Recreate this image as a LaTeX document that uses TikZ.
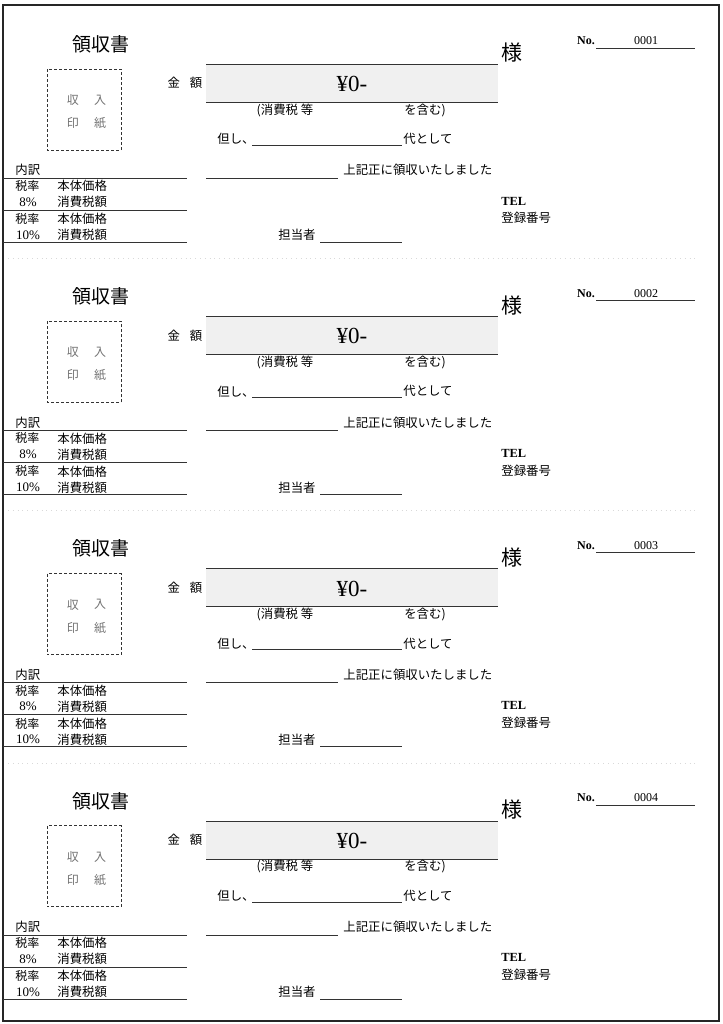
\documentclass[tikz,border=0pt]{standalone}
\usepackage{fontspec}
\setmainfont{Liberation Serif}
\newfontfamily\cjk{Noto Sans CJK JP}
\usetikzlibrary{positioning}
\definecolor{boxgray}{gray}{0.94}
\tikzset{
  lbl/.style={inner sep=0pt,font=\cjk\fontsize{6pt}{6pt}\selectfont},
  lblb/.style={lbl,font=\cjk\fontsize{6.2pt}{6.2pt}\selectfont},
  rule/.style={draw=black!80,line width=0.4pt},
  stamp/.style={draw=black!80,dash pattern=on 1.5pt off 1pt,line width=0.5pt},
}
\begin{document}
\begin{tikzpicture}[x=0.5pt,y=-0.5pt]
\useasboundingbox (0,0) rectangle (723,1024);
\draw[black!85,line width=0.7pt] (3,5) rectangle (719,1021);
% separators
\foreach \s in {258,510,763} \draw[black!15,dotted] (8,\s) -- (695,\s);
\foreach \i/\num in {0/0001,1/0002,2/0003,3/0004}{
\begin{scope}[yshift={-\i*252.3*0.5pt}]
\node[lbl,font=\cjk\fontsize{9.5pt}{9.5pt}\selectfont] (title\i) at (101,44) {領収書};
\draw[stamp] (47,69) rectangle (121,150);
\node[lbl,text=black!55] (sa\i) at (73,100) {収}; \node[lbl,text=black!55] (sb\i) at (100,100) {入};
\node[lbl,text=black!55] (sc\i) at (73,123) {印}; \node[lbl,text=black!55] (sd\i) at (100,123) {紙};
\node[lblb] (kin\i) at (185,83) {金\hspace{5pt}額};
\fill[boxgray] (206,64) rectangle (498,102);
\draw[rule] (206,64) -- (498,64) (206,102) -- (498,102);
\node[lbl,font=\fontsize{11.5pt}{11.5pt}\selectfont] (amt\i) at (352,84) {¥0-};
\node[lblb] (tax\i) at (285,110) {(消費税 等};
\node[lblb] (inc\i) at (425,110) {を含む)};
\node[lblb] (tada\i) at (236,139) {但し、};
\draw[rule] (252,145) -- (402,145);
\node[lblb] (dai\i) at (428,139) {代として};
\draw[rule] (206,178) -- (338,178);
\node[lblb,anchor=west] (recv\i) at (343,170) {上記正に領収いたしました};
\node[lblb,anchor=west] (uchi\i) at (15,170) {内訳};
\draw[rule] (3,178) -- (187,178) (3,210) -- (187,210) (3,242) -- (187,242);
\node[lbl,anchor=west] (ra\i) at (15,186) {税率};
\node[lblb,anchor=west] (pa\i) at (57,186) {本体価格};
\node[lbl,font=\fontsize{6.5pt}{6.5pt}\selectfont] (ta\i) at (28,202) {8\%};
\node[lblb,anchor=west] (ca\i) at (57,202) {消費税額};
\node[lbl,anchor=west] (rb\i) at (15,219) {税率};
\node[lblb,anchor=west] (pb\i) at (57,219) {本体価格};
\node[lbl,font=\fontsize{6.5pt}{6.5pt}\selectfont] (tb\i) at (28,235) {10\%};
\node[lblb,anchor=west] (cb\i) at (57,235) {消費税額};
\node[lblb] (tan\i) at (297,235) {担当者};
\draw[rule] (320,242) -- (402,242);
\node[lbl,font=\cjk\fontsize{10.5pt}{10.5pt}\selectfont] (sama\i) at (512,53) {様};
\node[lbl,font=\bfseries\fontsize{6pt}{6pt}\selectfont] (no\i) at (586,41) {No.};
\draw[rule] (596,48) -- (695,48);
\node[lbl,font=\fontsize{6pt}{6pt}\selectfont] (num\i) at (646,41) {\num};
\node[lbl,font=\bfseries\fontsize{6.2pt}{6.2pt}\selectfont,anchor=west] (tel\i) at (501,201) {TEL};
\node[lblb,anchor=west] (reg\i) at (501,218) {登録番号};
\end{scope}
}
\end{tikzpicture}
\end{document}
